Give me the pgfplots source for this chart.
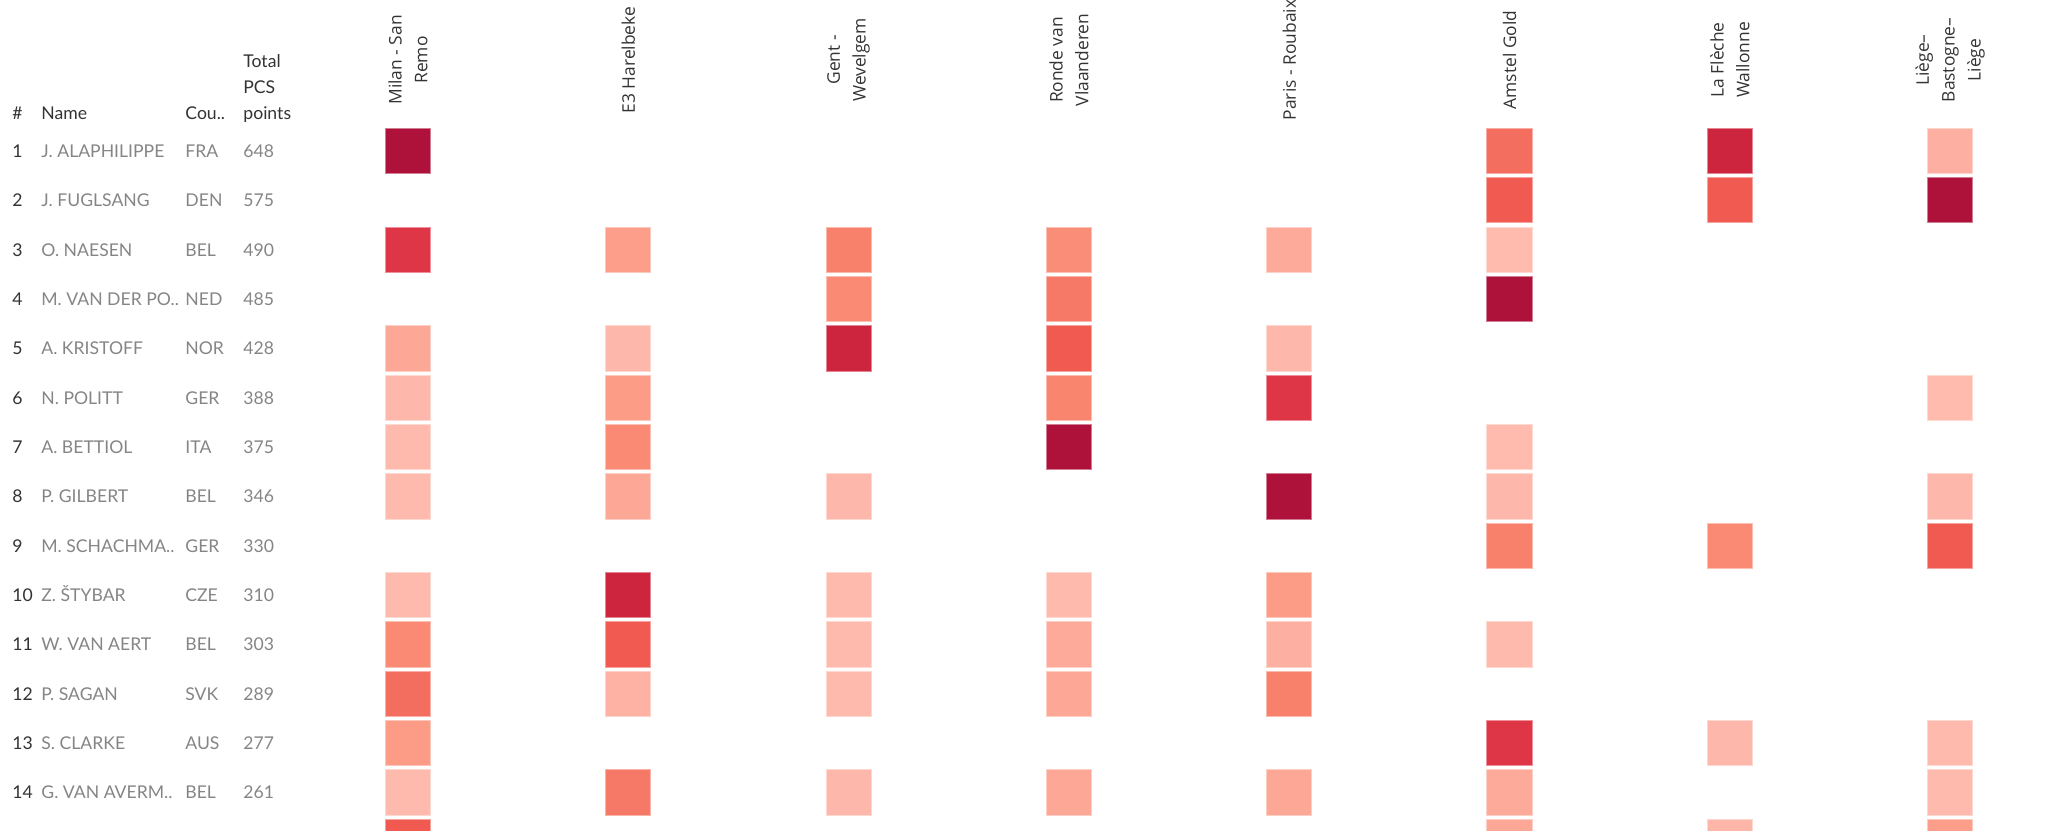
\documentclass[border=0pt]{standalone}
\usepackage{fontspec}
\setmainfont{Lato}
\newfontfamily\hfont{Open Sans}
\usepackage{pgfplots}
\usepackage{pgfplotstable}
\pgfplotsset{compat=1.18}
\definecolor{dk}{HTML}{333333}
\definecolor{gr}{HTML}{858585}
\newcommand\rowlab[4]{\makebox[14.5pt][l]{\textcolor{dk}{#1}}\makebox[72pt][l]{#2}\makebox[29pt][l]{#3}#4}

% x = race (1 Milan-San Remo ... 8 Liege-Bastogne-Liege), y = rider rank, v = colour level
\pgfplotstableread{
x y v
1 1 1.00
6 1 0.55
7 1 0.85
8 1 0.15
6 2 0.65
7 2 0.65
8 2 1.00
1 3 0.78
2 3 0.28
3 3 0.45
4 3 0.38
5 3 0.20
6 3 0.06
3 4 0.40
4 4 0.50
6 4 1.00
1 5 0.22
2 5 0.08
3 5 0.85
4 5 0.65
5 5 0.08
1 6 0.08
2 6 0.30
4 6 0.43
5 6 0.78
8 6 0.06
1 7 0.07
2 7 0.40
4 7 1.00
6 7 0.06
1 8 0.07
2 8 0.22
3 8 0.08
5 8 1.00
6 8 0.08
8 8 0.08
6 9 0.45
7 9 0.40
8 9 0.65
1 10 0.07
2 10 0.85
3 10 0.07
4 10 0.07
5 10 0.30
1 11 0.40
2 11 0.65
3 11 0.07
4 11 0.20
5 11 0.15
6 11 0.07
1 12 0.55
2 12 0.13
3 12 0.07
4 12 0.22
5 12 0.45
1 13 0.30
6 13 0.78
7 13 0.08
8 13 0.07
1 14 0.07
2 14 0.50
3 14 0.08
4 14 0.22
5 14 0.22
6 14 0.20
8 14 0.07
1 15 0.65
6 15 0.22
7 15 0.10
8 15 0.28
}\cells

\begin{document}
\begin{tikzpicture}
\useasboundingbox (0,0) rectangle (1024pt,418.5pt);
\begin{scope}
\clip (0pt,3.5pt) rectangle (1024pt,418.5pt);
\begin{axis}[
  at={(145pt,355.35pt)}, anchor=north west,
  scale only axis, width=879pt, height=370.15pt,
  xmin=0.4644, xmax=8.4443, ymin=0.5, ymax=15.5, y dir=reverse,
  axis line style={draw=none}, major tick length=0pt,
  xtick=\empty, ytick={1,...,14},
  yticklabels={
    {\rowlab{1}{J. ALAPHILIPPE}{FRA}{648}},
    {\rowlab{2}{J. FUGLSANG}{DEN}{575}},
    {\rowlab{3}{O. NAESEN}{BEL}{490}},
    {\rowlab{4}{M. VAN DER PO..}{NED}{485}},
    {\rowlab{5}{A. KRISTOFF}{NOR}{428}},
    {\rowlab{6}{N. POLITT}{GER}{388}},
    {\rowlab{7}{A. BETTIOL}{ITA}{375}},
    {\rowlab{8}{P. GILBERT}{BEL}{346}},
    {\rowlab{9}{M. SCHACHMA..}{GER}{330}},
    {\rowlab{10}{Z. ŠTYBAR}{CZE}{310}},
    {\rowlab{11}{W. VAN AERT}{BEL}{303}},
    {\rowlab{12}{P. SAGAN}{SVK}{289}},
    {\rowlab{13}{S. CLARKE}{AUS}{277}},
    {\rowlab{14}{G. VAN AVERM..}{BEL}{261}}},
  yticklabel style={anchor=base west, inner sep=0pt, xshift=-139pt, yshift=-3.2pt,
    font=\fontsize{8.8pt}{10pt}\selectfont, text=gr},
  clip mode=individual,
  colormap={tabred}{rgb255(0cm)=(255,194,182) rgb255(20cm)=(253,170,154)
    rgb255(30cm)=(252,155,134) rgb255(40cm)=(250,138,115) rgb255(50cm)=(246,120,102)
    rgb255(65cm)=(240,90,80) rgb255(78cm)=(222,54,70) rgb255(85cm)=(206,37,62)
    rgb255(100cm)=(174,18,58)},
  point meta min=0, point meta max=1,
]
\addplot[scatter, only marks, mark=square*, mark size=11.3pt, line width=0.5pt,
  point meta=explicit,
  scatter/use mapped color={draw=mapped color!55!white, fill=mapped color}]
  table[x=x, y=y, meta=v] {\cells};
\begin{scope}[every node/.style={rotate=90, align=center, text=dk, inner sep=0pt,
  font=\hfont\fontsize{8.7pt}{12.9pt}\selectfont}]
\node at (axis cs:1,-0.844) {Milan - San\\Remo};
\node at (axis cs:2,-0.844) {E3 Harelbeke};
\node at (axis cs:3,-0.844) {Gent -\\Wevelgem};
\node at (axis cs:4,-0.844) {Ronde van\\Vlaanderen};
\node at (axis cs:5,-0.844) {Paris - Roubaix};
\node at (axis cs:6,-0.844) {Amstel Gold};
\node at (axis cs:7,-0.844) {La Flèche\\Wallonne};
\node at (axis cs:8,-0.844) {Liège–\\Bastogne–\\Liège};
\end{scope}
\end{axis}
\end{scope}
\begin{scope}[every node/.style={anchor=base west, inner sep=0pt, text=dk,
  font=\fontsize{8.8pt}{10pt}\selectfont}]
\node at (6pt,358.75pt) {\#};
\node at (20.5pt,358.75pt) {Name};
\node at (92.5pt,358.75pt) {Cou..};
\node at (121.5pt,358.75pt) {points};
\node at (121.5pt,371.75pt) {PCS};
\node at (121.5pt,384.75pt) {Total};
\end{scope}
\end{tikzpicture}
\end{document}
